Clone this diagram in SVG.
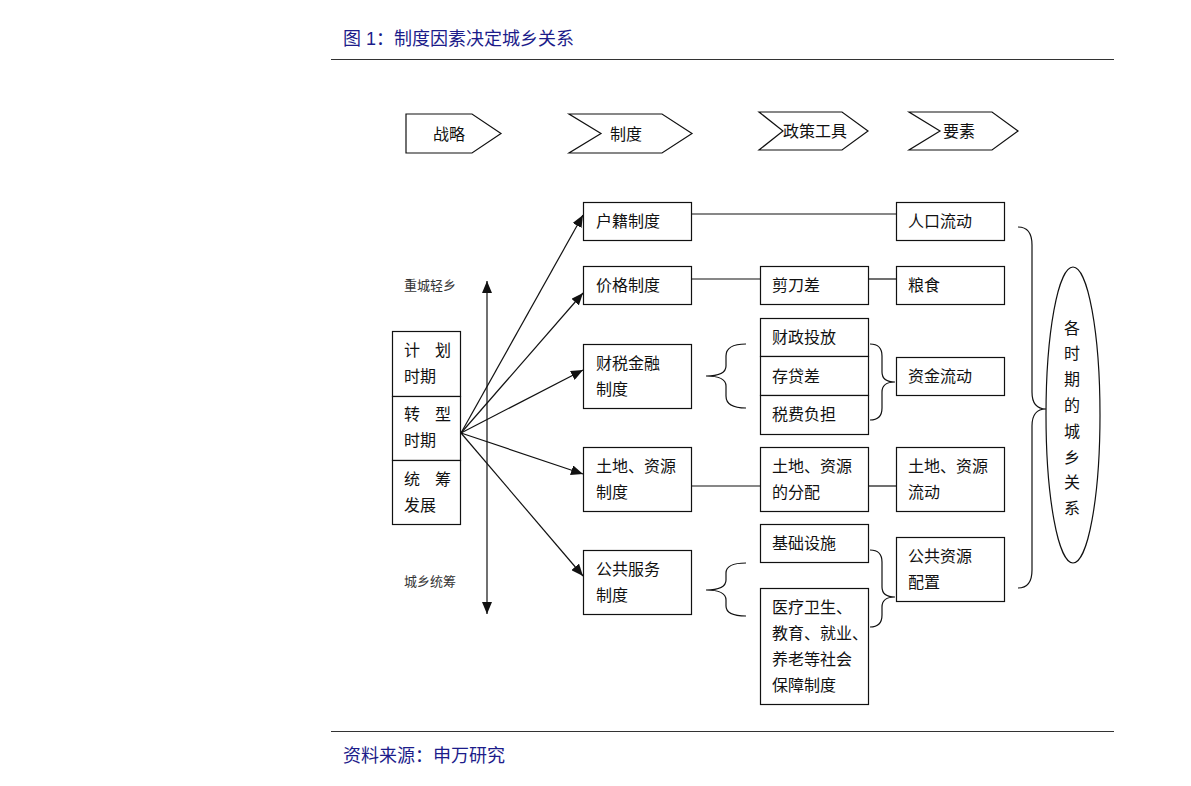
<svg xmlns="http://www.w3.org/2000/svg" width="1191" height="786" viewBox="0 0 1191 786">
  <style>
    .cap { font-family: "Liberation Sans", "Noto Sans CJK SC", sans-serif; font-size: 18px; fill: #1c1c8a; }
    .t { font-family: "Liberation Serif", "Noto Sans CJK SC", serif; font-size: 16px; fill: #111; }
    .s { font-family: "Liberation Serif", "Noto Sans CJK SC", serif; font-size: 13px; fill: #333; }
    .hd { font-family: "Liberation Sans", "Noto Sans CJK SC", sans-serif; font-size: 16px; font-weight: normal; fill: #111; }
    .box { fill: #fff; stroke: #111; stroke-width: 1.2; }
    .ln { fill: none; stroke: #111; stroke-width: 1.2; }
    .rule { stroke: #333; stroke-width: 1.2; }
  </style>
  <defs>
    <marker id="ah" viewBox="0 0 12 10" refX="12" refY="5" markerWidth="12" markerHeight="10" markerUnits="userSpaceOnUse" orient="auto-start-reverse">
      <path d="M0,0 L12,5 L0,10 Z" fill="#111"/>
    </marker>
  </defs>
  <rect width="1191" height="786" fill="#fff"/>

  <!-- caption and rules -->
  <text class="cap" x="343" y="45">图 1：制度因素决定城乡关系</text>
  <line class="rule" x1="331" y1="59.5" x2="1114" y2="59.5"/>
  <line class="rule" x1="331" y1="731.5" x2="1114" y2="731.5"/>
  <text class="cap" x="343" y="762">资料来源：申万研究</text>

  <!-- column headers -->
  <g id="hd-zl">
    <path class="box" d="M406,114 L472,114 L501,133.5 L472,153 L406,153 Z"/>
    <text class="hd" x="449" y="139.5" text-anchor="middle">战略</text>
  </g>
  <g id="hd-zd">
    <path class="box" d="M569,114 L662,114 L692,133.5 L662,153 L569,153 L601,133.5 Z"/>
    <text class="hd" x="626" y="139.5" text-anchor="middle">制度</text>
  </g>
  <g id="hd-zcgj">
    <path class="box" d="M759,112 L842,112 L868,131 L842,150 L759,150 L783,131 Z"/>
    <text class="hd" x="815" y="137" text-anchor="middle">政策工具</text>
  </g>
  <g id="hd-ys">
    <path class="box" d="M909,112 L992,112 L1018,131 L992,150 L909,150 L940,131 Z"/>
    <text class="hd" x="959" y="137" text-anchor="middle">要素</text>
  </g>

  <!-- connectors -->
  <g id="connectors">
    <line class="ln" x1="487" y1="281" x2="487" y2="614" marker-start="url(#ah)" marker-end="url(#ah)"/>
    <line class="ln" x1="461" y1="433" x2="583" y2="215" marker-end="url(#ah)"/>
    <line class="ln" x1="461" y1="433" x2="583" y2="293" marker-end="url(#ah)"/>
    <line class="ln" x1="461" y1="433" x2="583" y2="370" marker-end="url(#ah)"/>
    <line class="ln" x1="461" y1="433" x2="583" y2="474" marker-end="url(#ah)"/>
    <line class="ln" x1="461" y1="433" x2="583" y2="576" marker-end="url(#ah)"/>
    <line class="ln" x1="691" y1="214" x2="896" y2="214"/>
    <line class="ln" x1="691" y1="279" x2="760" y2="279"/>
    <line class="ln" x1="868" y1="279" x2="896" y2="279"/>
    <line class="ln" x1="691" y1="486" x2="760" y2="486"/>
    <line class="ln" x1="868" y1="486" x2="896" y2="486"/>
    <!-- braces -->
    <path class="ln" d="M746,344 Q726,344 726,356 L726,366 Q726,376 706,376 Q726,376 726,386 L726,396 Q726,408 746,408"/>
    <path class="ln" d="M870,344 Q882,344 882,356 L882,372 Q882,382 895,382 Q882,382 882,392 L882,408 Q882,420 870,420"/>
    <path class="ln" d="M746,563 Q726,563 726,573 L726,580 Q726,590 706,590 Q726,590 726,600 L726,606 Q726,616 746,616"/>
    <path class="ln" d="M870,550 Q882,550 882,562 L882,587 Q882,597 895,597 Q882,597 882,607 L882,615 Q882,627 870,627"/>
    <path class="ln" d="M1018,227 Q1032,227 1032,245 L1032,392 Q1032,409 1046,409 Q1032,409 1032,426 L1032,570 Q1032,588 1018,588"/>
  </g>

  <!-- strategy column -->
  <text class="s" x="404" y="290">重城轻乡</text>
  <text class="s" x="404" y="586">城乡统筹</text>
  <g id="n-jh">
    <rect class="box" x="392.5" y="331.5" width="68" height="65"/>
    <text class="t" x="404" y="356">计</text><text class="t" x="435" y="356">划</text>
    <text class="t" x="404" y="382">时期</text>
  </g>
  <g id="n-zx">
    <rect class="box" x="392.5" y="396.5" width="68" height="64"/>
    <text class="t" x="404" y="420">转</text><text class="t" x="435" y="420">型</text>
    <text class="t" x="404" y="446">时期</text>
  </g>
  <g id="n-tc">
    <rect class="box" x="392.5" y="460.5" width="68" height="64"/>
    <text class="t" x="404" y="485">统</text><text class="t" x="435" y="485">筹</text>
    <text class="t" x="404" y="511">发展</text>
  </g>

  <!-- institutions -->
  <g id="n-hj">
    <rect class="box" x="583.5" y="202.5" width="108" height="38"/>
    <text class="t" x="596" y="227">户籍制度</text>
  </g>
  <g id="n-jg">
    <rect class="box" x="583.5" y="266.5" width="108" height="38"/>
    <text class="t" x="596" y="291">价格制度</text>
  </g>
  <g id="n-cs">
    <rect class="box" x="583.5" y="344.5" width="108" height="64"/>
    <text class="t" x="596" y="369">财税金融</text>
    <text class="t" x="596" y="395">制度</text>
  </g>
  <g id="n-td">
    <rect class="box" x="583.5" y="447.5" width="108" height="64"/>
    <text class="t" x="596" y="472">土地、资源</text>
    <text class="t" x="596" y="498">制度</text>
  </g>
  <g id="n-gg">
    <rect class="box" x="583.5" y="550.5" width="108" height="64"/>
    <text class="t" x="596" y="575">公共服务</text>
    <text class="t" x="596" y="601">制度</text>
  </g>

  <!-- policy tools -->
  <g id="n-jdc">
    <rect class="box" x="760.5" y="266.5" width="108" height="38"/>
    <text class="t" x="772" y="291">剪刀差</text>
  </g>
  <g id="n-cztf">
    <rect class="box" x="760.5" y="318.5" width="108" height="38"/>
    <text class="t" x="772" y="343">财政投放</text>
  </g>
  <g id="n-cdc">
    <rect class="box" x="760.5" y="356.5" width="108" height="39"/>
    <text class="t" x="772" y="382">存贷差</text>
  </g>
  <g id="n-sffd">
    <rect class="box" x="760.5" y="395.5" width="108" height="39"/>
    <text class="t" x="772" y="420">税费负担</text>
  </g>
  <g id="n-tdfp">
    <rect class="box" x="760.5" y="447.5" width="108" height="64"/>
    <text class="t" x="772" y="472">土地、资源</text>
    <text class="t" x="772" y="498">的分配</text>
  </g>
  <g id="n-jcss">
    <rect class="box" x="760.5" y="524.5" width="108" height="38"/>
    <text class="t" x="772" y="549">基础设施</text>
  </g>
  <g id="n-ylws">
    <rect class="box" x="760.5" y="588.5" width="108" height="116"/>
    <text class="t" x="772" y="613">医疗卫生、</text>
    <text class="t" x="772" y="639">教育、就业、</text>
    <text class="t" x="772" y="665">养老等社会</text>
    <text class="t" x="772" y="691">保障制度</text>
  </g>

  <!-- factors -->
  <g id="n-rk">
    <rect class="box" x="896.5" y="202.5" width="108" height="38"/>
    <text class="t" x="908" y="227">人口流动</text>
  </g>
  <g id="n-ls">
    <rect class="box" x="896.5" y="266.5" width="108" height="38"/>
    <text class="t" x="908" y="291">粮食</text>
  </g>
  <g id="n-zj">
    <rect class="box" x="896.5" y="357.5" width="108" height="38"/>
    <text class="t" x="908" y="382">资金流动</text>
  </g>
  <g id="n-tdld">
    <rect class="box" x="896.5" y="447.5" width="108" height="64"/>
    <text class="t" x="908" y="472">土地、资源</text>
    <text class="t" x="908" y="498">流动</text>
  </g>
  <g id="n-ggzy">
    <rect class="box" x="896.5" y="537.5" width="108" height="64"/>
    <text class="t" x="908" y="562">公共资源</text>
    <text class="t" x="908" y="588">配置</text>
  </g>

  <!-- outcome -->
  <g id="n-cxgx">
    <ellipse class="box" cx="1073" cy="415" rx="27" ry="148"/>
    <g class="t" text-anchor="middle">
      <text x="1072" y="334">各</text>
      <text x="1072" y="359">时</text>
      <text x="1072" y="385">期</text>
      <text x="1072" y="411">的</text>
      <text x="1072" y="437">城</text>
      <text x="1072" y="463">乡</text>
      <text x="1072" y="488">关</text>
      <text x="1072" y="514">系</text>
    </g>
  </g>
</svg>
